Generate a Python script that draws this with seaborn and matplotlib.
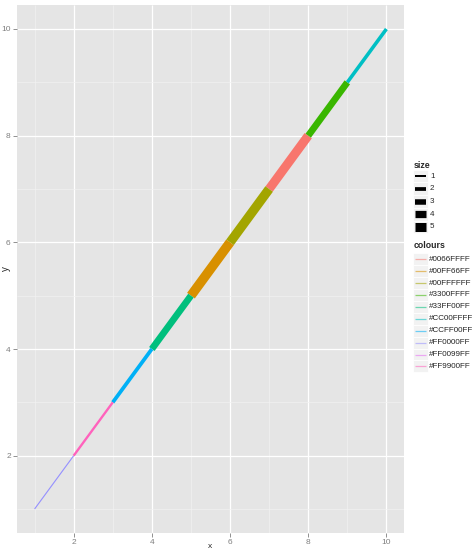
import numpy as np
import pandas as pd
import matplotlib
matplotlib.use("Agg")
import matplotlib.pyplot as plt
import seaborn as sns
from matplotlib.lines import Line2D
from matplotlib.patches import Rectangle

# ---- data ----
x_vals = [1, 2, 3, 4, 5, 6, 7, 8, 9, 10]
y_vals = [1, 2, 3, 4, 5, 6, 7, 8, 9, 10]
colours = ["#FF0000FF", "#FF9900FF", "#CCFF00FF", "#33FF00FF", "#00FF66FF",
           "#00FFFFFF", "#0066FFFF", "#3300FFFF", "#CC00FFFF", "#FF0099FF"]
size_vals = [0.5, 1.2, 2.0, 3.7, 5.3, 5.2, 5.0, 3.7, 1.9, 1.0]
size_breaks = [1, 2, 3, 4, 5]
x_ticks = [2, 4, 6, 8, 10]
y_ticks = [2, 4, 6, 8, 10]

colour_levels = sorted(colours)
hue_pal = ["#F8766D", "#D89000", "#A3A500", "#39B600", "#00BF7D",
           "#00BFC4", "#00B0F6", "#9590FF", "#E76BF3", "#FF62BC"]
palette = dict(zip(colour_levels, hue_pal))

def size_to_pt(s):
    return (1.75 * s + 0.25) * 0.72

rows = []
for i in range(len(x_vals) - 1):
    for j in (i, i + 1):
        rows.append(dict(x=x_vals[j], y=y_vals[j], seg=i,
                         colour=colours[i], size=size_vals[i]))
df = pd.DataFrame(rows)
size_map = {s: size_to_pt(s) for s in df["size"].unique()}

# ---- style ----
sns.set_style("darkgrid", {"axes.facecolor": "#E5E5E5", "grid.color": "white"})
plt.rcParams["font.family"] = ["Liberation Sans", "DejaVu Sans"]
plt.rcParams["lines.solid_capstyle"] = "butt"

W, H = 474, 551
fig = plt.figure(figsize=(W / 100, H / 100), dpi=100)
fig.patch.set_facecolor("white")
L, R, T, B = 17, 404, 5, 533
ax = fig.add_axes([L / W, (H - B) / H, (R - L) / W, (B - T) / H])

sns.lineplot(data=df, x="x", y="y", hue="colour", hue_order=colour_levels,
             palette=palette, size="size", sizes=size_map, units="seg",
             estimator=None, sort=False, legend=False, ax=ax)

ax.set_xlim(0.55, 10.45)
ax.set_ylim(0.55, 10.45)
ax.set_xticks(x_ticks)
ax.set_yticks(y_ticks)
ax.set_xticks([1, 3, 5, 7, 9], minor=True)
ax.set_yticks([1, 3, 5, 7, 9], minor=True)
ax.grid(which="major", color="white", linewidth=0.9)
ax.grid(which="minor", color="#F2F2F2", linewidth=0.45)
ax.set_axisbelow(True)
for sp in ax.spines.values():
    sp.set_visible(False)
ax.tick_params(which="major", length=3, width=0.6, color="#7F7F7F",
               labelsize=6, labelcolor="#7F7F7F", pad=1.5,
               bottom=True, left=True)
ax.tick_params(which="minor", length=0)
ax.set_xlabel("")
ax.set_ylabel("")

# ---- legends / axis titles (drawn in pixel space) ----
lax = fig.add_axes([0, 0, 1, 1], facecolor="none")
lax.set_xlim(0, W)
lax.set_ylim(H, 0)
lax.axis("off")

lax.text(1, (T + B) / 2, "y", fontsize=7, rotation=90, va="center", ha="left")
lax.text((L + R) / 2, H - 0.5, "x", fontsize=6, va="bottom", ha="center")

lax.text(414, 165, "size", fontsize=6.3, fontweight="bold", va="center", ha="left")
sy0, sdy = 176, 12.75
for k, s in enumerate(size_breaks):
    yy = sy0 + k * sdy
    lax.add_patch(Rectangle((413, yy - sdy / 2), 15, sdy, facecolor="#F2F2F2",
                            edgecolor="white", linewidth=0.6, zorder=1))
    lax.add_line(Line2D([415, 426], [yy, yy], color="black",
                        linewidth=size_to_pt(s), solid_capstyle="butt", zorder=3))
    lax.text(430, yy, str(s), fontsize=5.8, va="center", ha="left")

lax.text(414, 246, "colours", fontsize=6.3, fontweight="bold", va="center", ha="left")
cy0, cdy = 259.3, 11.9
for k, lev in enumerate(colour_levels):
    yy = cy0 + k * cdy
    lax.add_patch(Rectangle((413, yy - cdy / 2), 15, cdy, facecolor="#F2F2F2",
                            edgecolor="white", linewidth=0.6, zorder=1))
    lax.add_line(Line2D([415, 426], [yy, yy], color=palette[lev],
                        linewidth=0.9, alpha=0.55, solid_capstyle="butt", zorder=3))
    lax.text(429, yy, lev, fontsize=5.8, va="center", ha="left", color="#222222")

fig.savefig("out.png", dpi=100)
